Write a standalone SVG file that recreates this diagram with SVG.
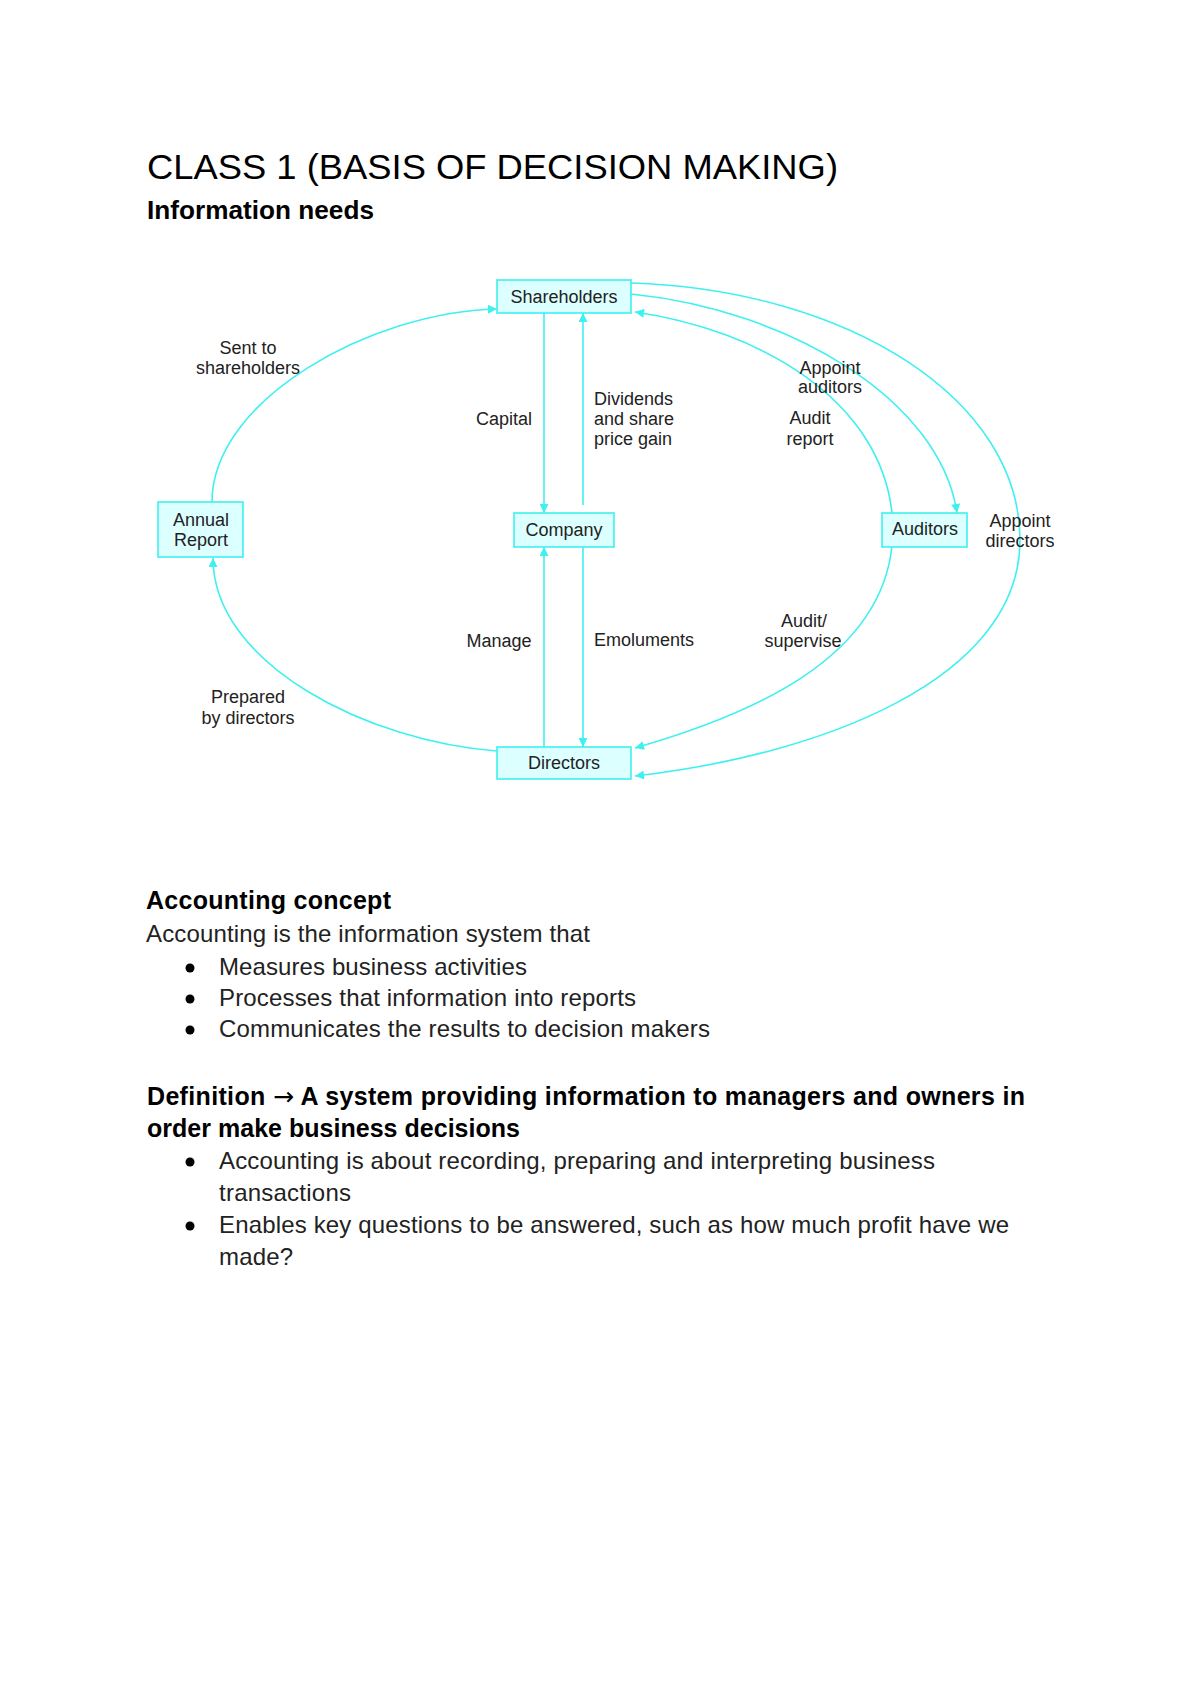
<svg xmlns="http://www.w3.org/2000/svg" width="1200" height="1698" viewBox="0 0 1200 1698">
<style>
.node{fill:#dcffff;stroke:#3ff0f0;stroke-width:1.6}
.lbl{font-family:"Liberation Sans",Arial,sans-serif;font-size:18px;fill:#222}
.c{text-anchor:middle}
.con{fill:none;stroke:#3ff0f0;stroke-width:1.6}
.h{font-family:"Liberation Sans",Arial,sans-serif;fill:#000}
.body{font-family:"Liberation Sans",Arial,sans-serif;font-size:24px;fill:#222}
.bold{font-weight:bold;font-size:25px;fill:#000}
</style>
<defs>
<marker id="ah" viewBox="0 0 10 10" refX="10" refY="5" markerWidth="10" markerHeight="9" markerUnits="userSpaceOnUse" orient="auto">
<path d="M0,0 L10,5 L0,10 z" fill="#3ff0f0"/>
</marker>
</defs>
<rect width="1200" height="1698" fill="#fff"/>

<text class="h" x="147" y="179" font-size="35" textLength="691" lengthAdjust="spacingAndGlyphs">CLASS 1 (BASIS OF DECISION MAKING)</text>
<text class="h" x="147" y="219" font-size="26" font-weight="bold" textLength="227" lengthAdjust="spacingAndGlyphs">Information needs</text>

<g id="connectors">
<line class="con" x1="544" y1="313" x2="544" y2="513" marker-end="url(#ah)"/>
<line class="con" x1="583" y1="505" x2="583" y2="313" marker-end="url(#ah)"/>
<line class="con" x1="544" y1="747" x2="544" y2="547" marker-end="url(#ah)"/>
<line class="con" x1="583" y1="547" x2="583" y2="747" marker-end="url(#ah)"/>
<path class="con" d="M212,502 C212,400 370,312 497,309" marker-end="url(#ah)"/>
<path class="con" d="M497,751 C370,742 213,665 213,558" marker-end="url(#ah)"/>
<path class="con" d="M631,294 C790,310 940,400 957,513" marker-end="url(#ah)"/>
<path class="con" d="M892,513 C880,400 760,330 635,312" marker-end="url(#ah)"/>
<path class="con" d="M631,283 C850,290 1020,400 1020,540 C1020,680 820,755 635,776" marker-end="url(#ah)"/>
<path class="con" d="M892,546 C880,660 750,715 635,748" marker-end="url(#ah)"/>
</g>

<g id="shareholders"><rect class="node" x="497" y="280" width="134" height="33"/><text class="lbl c" x="564" y="303">Shareholders</text></g>
<g id="company"><rect class="node" x="514" y="513" width="100" height="34"/><text class="lbl c" x="564" y="536">Company</text></g>
<g id="annual-report"><rect class="node" x="158" y="502" width="85" height="55"/><text class="lbl c" x="201" y="526">Annual</text><text class="lbl c" x="201" y="546">Report</text></g>
<g id="auditors"><rect class="node" x="882" y="513" width="85" height="34"/><text class="lbl c" x="925" y="535">Auditors</text></g>
<g id="directors"><rect class="node" x="497" y="747" width="134" height="32"/><text class="lbl c" x="564" y="769">Directors</text></g>

<g id="labels">
<text class="lbl c" x="248" y="354">Sent to</text>
<text class="lbl c" x="248" y="374">shareholders</text>
<text class="lbl c" x="504" y="425">Capital</text>
<text class="lbl" x="594" y="405">Dividends</text>
<text class="lbl" x="594" y="425">and share</text>
<text class="lbl" x="594" y="445">price gain</text>
<text class="lbl c" x="830" y="374">Appoint</text>
<text class="lbl c" x="830" y="393">auditors</text>
<text class="lbl c" x="810" y="424">Audit</text>
<text class="lbl c" x="810" y="445">report</text>
<text class="lbl c" x="1020" y="527">Appoint</text>
<text class="lbl c" x="1020" y="547">directors</text>
<text class="lbl c" x="499" y="647">Manage</text>
<text class="lbl" x="594" y="646">Emoluments</text>
<text class="lbl c" x="804" y="627">Audit/</text>
<text class="lbl c" x="803" y="647">supervise</text>
<text class="lbl c" x="248" y="703">Prepared</text>
<text class="lbl c" x="248" y="724">by directors</text>
</g>

<text class="body bold" x="146" y="909" textLength="245" lengthAdjust="spacing">Accounting concept</text>
<text class="body" x="146" y="942" textLength="444" lengthAdjust="spacing">Accounting is the information system that</text>
<circle cx="190" cy="968" r="4.5" fill="#000"/>
<text class="body" x="219" y="975" textLength="308" lengthAdjust="spacing">Measures business activities</text>
<circle cx="190" cy="999" r="4.5" fill="#000"/>
<text class="body" x="219" y="1006" textLength="417" lengthAdjust="spacing">Processes that information into reports</text>
<circle cx="190" cy="1030" r="4.5" fill="#000"/>
<text class="body" x="219" y="1037" textLength="491" lengthAdjust="spacing">Communicates the results to decision makers</text>

<text class="body bold" x="147" y="1105" textLength="878" lengthAdjust="spacing">Definition <tspan font-family="'DejaVu Sans',sans-serif" font-weight="normal">→</tspan> A system providing information to managers and owners in</text>
<text class="body bold" x="147" y="1137" textLength="373" lengthAdjust="spacing">order make business decisions</text>
<circle cx="190" cy="1162" r="4.5" fill="#000"/>
<text class="body" x="219" y="1169" textLength="716" lengthAdjust="spacing">Accounting is about recording, preparing and interpreting business</text>
<text class="body" x="219" y="1201" textLength="132" lengthAdjust="spacing">transactions</text>
<circle cx="190" cy="1226" r="4.5" fill="#000"/>
<text class="body" x="219" y="1233" textLength="790" lengthAdjust="spacing">Enables key questions to be answered, such as how much profit have we</text>
<text class="body" x="219" y="1265" textLength="74" lengthAdjust="spacing">made?</text>
</svg>
